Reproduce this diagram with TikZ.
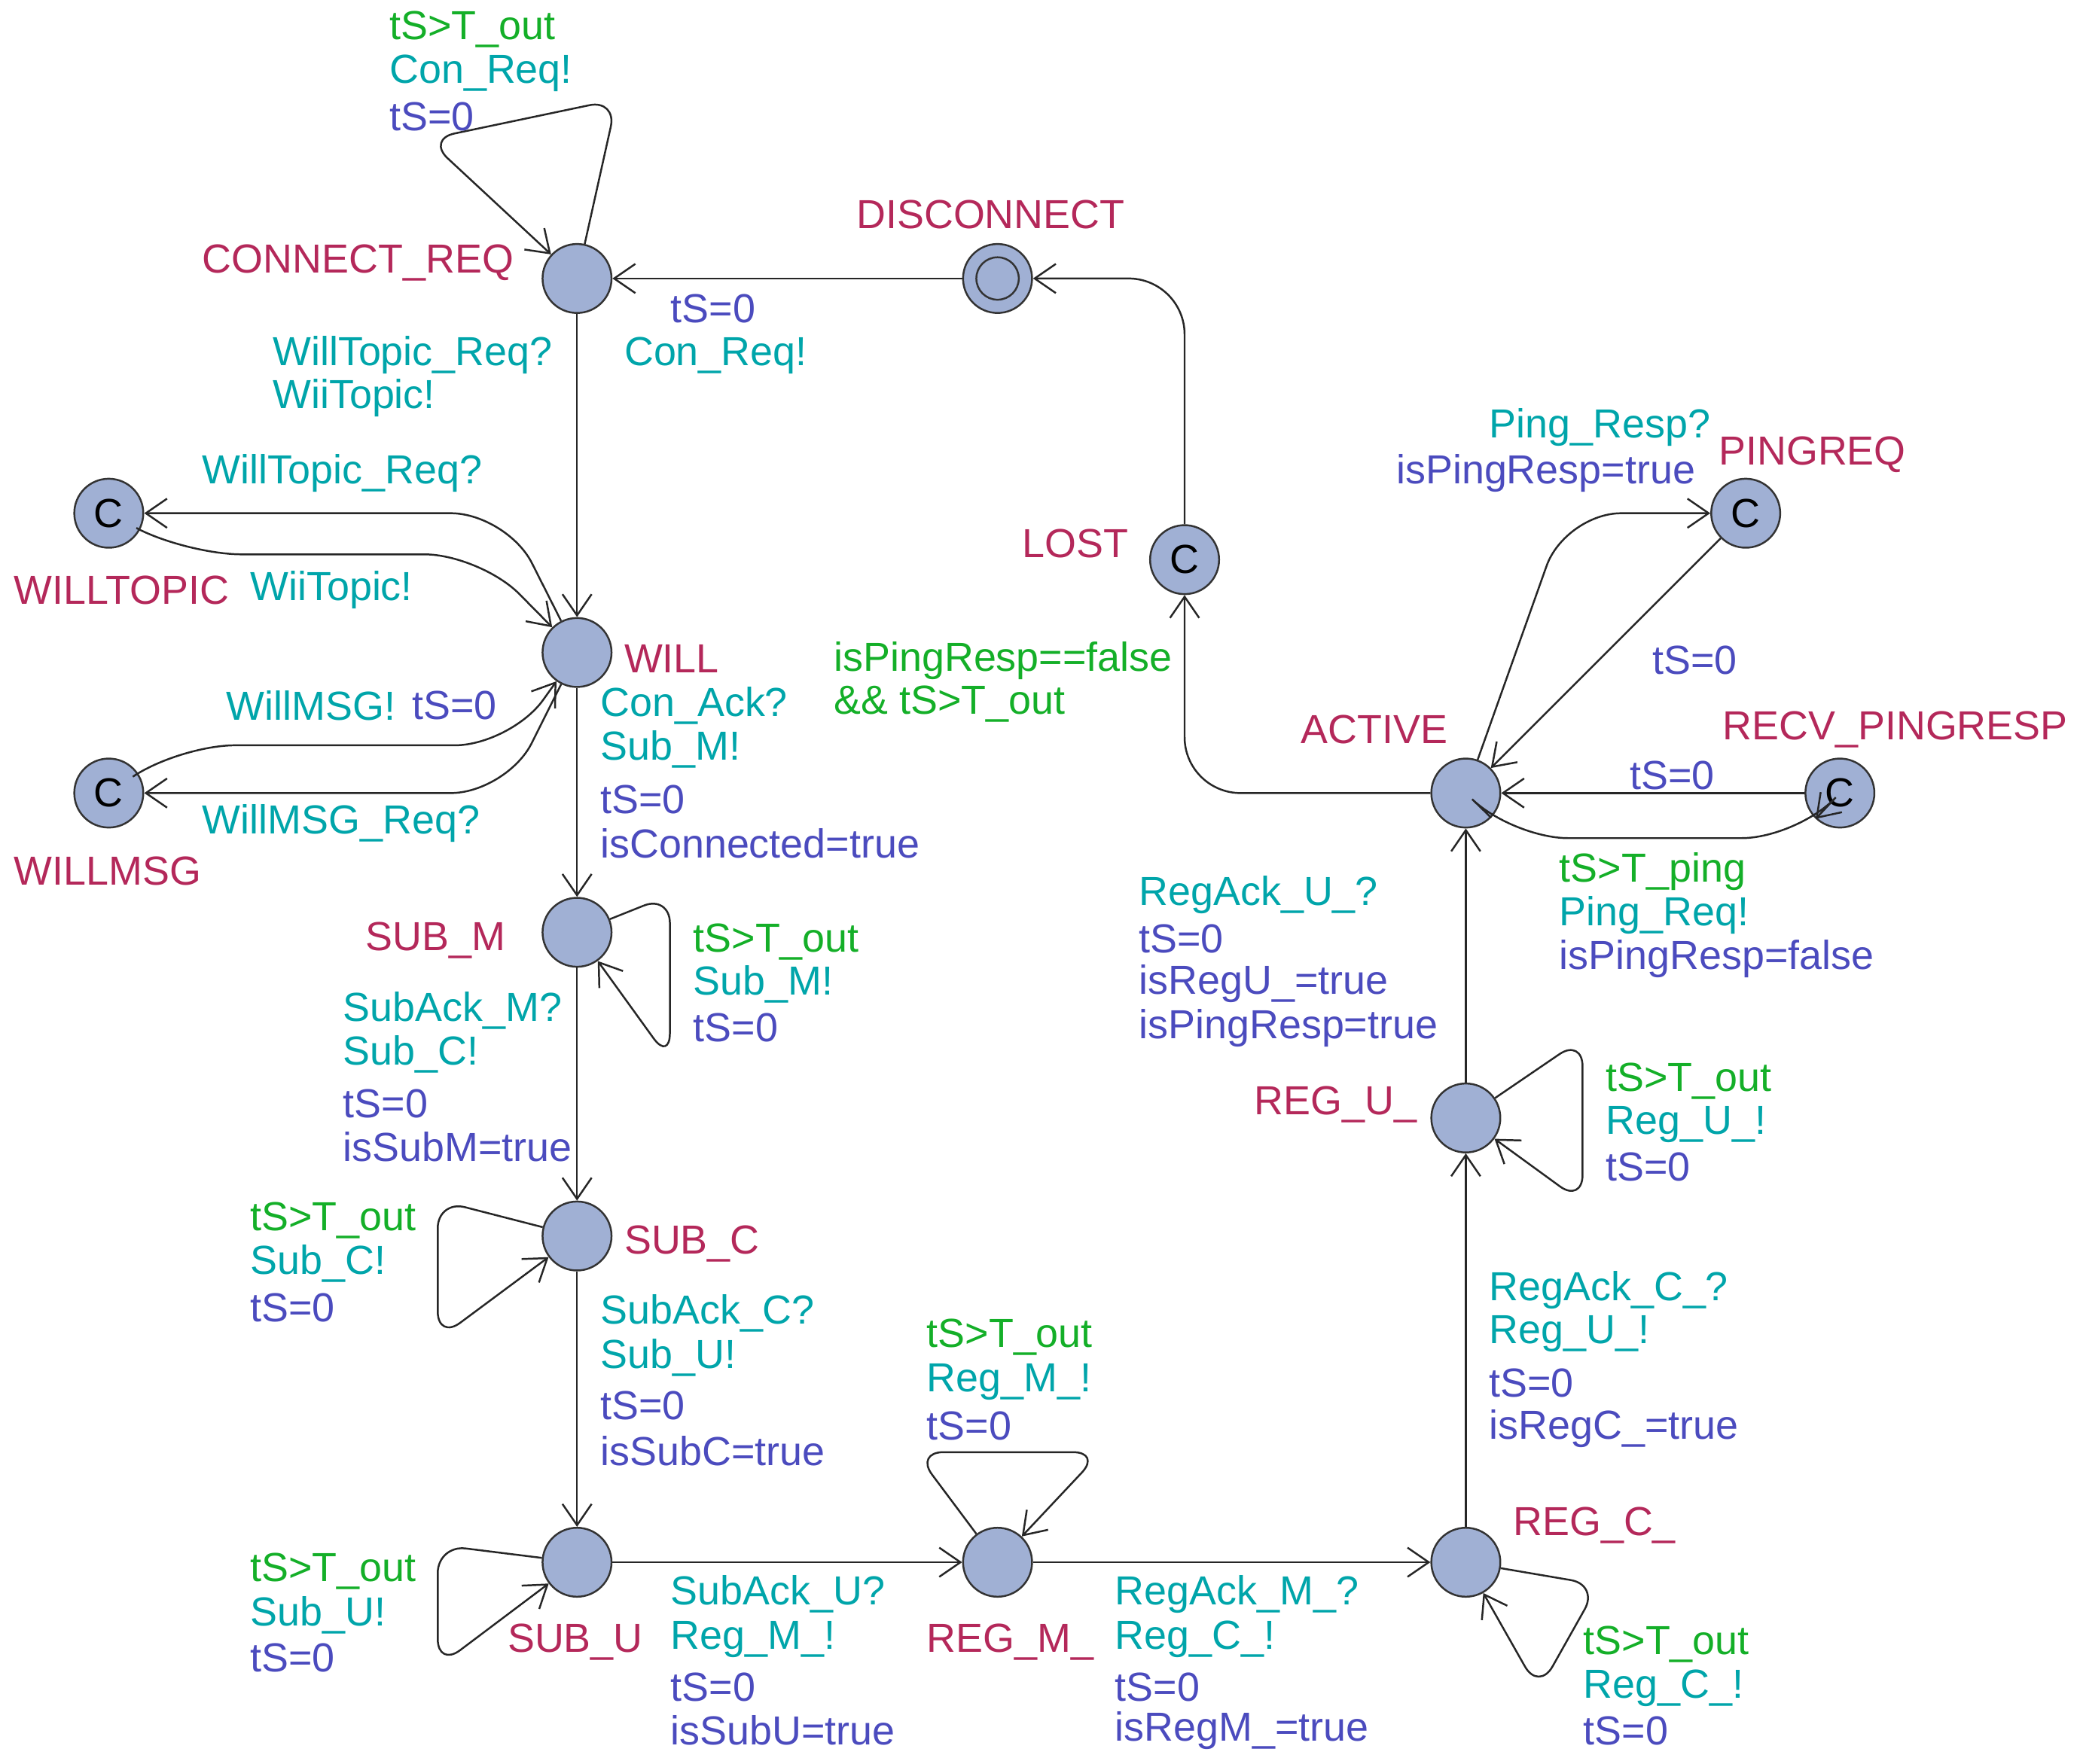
\documentclass[tikz,border=0pt]{standalone}
\usepackage{fontspec}
\setmainfont{Liberation Sans}
\usetikzlibrary{arrows.meta}
\definecolor{locc}{RGB}{180,40,90}
\definecolor{grd}{RGB}{20,175,40}
\definecolor{syn}{RGB}{0,165,170}
\definecolor{asg}{RGB}{75,75,190}
\definecolor{nfill}{RGB}{160,176,212}
\begin{document}
\begin{tikzpicture}[x=0.1mm,y=-0.1mm,
  every node/.style={font=\fontsize{8.7}{9.4}\selectfont},
  loc/.style={circle,draw=black!80,fill=nfill,minimum size=5.2mm,inner sep=0pt},
  lname/.style={text=locc,anchor=west,inner sep=0pt},
  lab/.style={anchor=west,inner sep=0pt,align=left},
  tg/.style={lab,text=grd}, ts/.style={lab,text=syn}, ta/.style={lab,text=asg},
  arr/.style={draw=black!85,-{Straight Barb[length=1.6mm,width=2.2mm]},rounded corners=12pt}]
\useasboundingbox (0,0) rectangle (1568,1330);
% locations
\node[loc] (cr) at (435,210) {};
\node[loc] (disc) at (752,210) {};
\draw[black!80] (752,210) circle (1.6mm);
\node[loc] (will) at (435,492) {};
\node[loc] (wt) at (82,387) {C};
\node[loc] (wm) at (82,598) {C};
\node[loc] (subm) at (435,703) {};
\node[loc] (subc) at (435,932) {};
\node[loc] (subu) at (435,1178) {};
\node[loc] (regm) at (752,1178) {};
\node[loc] (regc) at (1105,1178) {};
\node[loc] (regu) at (1105,843) {};
\node[loc] (act) at (1105,598) {};
\node[loc] (lost) at (893,422) {C};
\node[loc] (pr) at (1316,387) {C};
\node[loc] (recv) at (1387,598) {C};
% names
\node[lname] at (152,198) {CONNECT\_REQ};
\node[lname] at (645,162) {DISCONNECT};
\node[lname] at (10,445) {WILLTOPIC};
\node[lname] at (10,657) {WILLMSG};
\node[lname] at (470,497) {WILL};
\node[lname] at (275,709) {SUB\_M};
\node[lname] at (470,938) {SUB\_C};
\node[lname] at (382,1238) {SUB\_U};
\node[lname] at (698,1238) {REG\_M\_};
\node[lname] at (1140,1150) {REG\_C\_};
\node[lname] at (945,833) {REG\_U\_};
\node[lname] at (980,550) {ACTIVE};
\node[lname] at (770,410) {LOST};
\node[lname] at (1295,343) {PINGREQ};
\node[lname] at (1298,550) {RECV\_PINGRESP};
% edges
\draw[arr,rounded corners=6pt] (cr) -- (465,75) -- (322,105) -- (cr);
\node[tg] at (293,22) {tS>T\_out};
\node[ts] at (293,55) {Con\_Req!};
\node[ta] at (293,88) {tS=0};
\draw[arr] (disc) -- (cr);
\node[ta] at (505,233) {tS=0};
\node[ts] at (470,268) {Con\_Req!};
\draw[arr] (lost) -- (893,210) -- (disc);
\draw[arr] (act) -- (893,598) -- (lost);
\node[tg] at (628,498) {isPingResp==false};
\node[tg] at (628,531) {\&\& tS>T\_out};
\draw[arr] (cr) -- (will);
\node[ts] at (205,268) {WillTopic\_Req?};
\node[ts] at (205,300) {WiiTopic!};
\draw[arr] (will) -- (382,387) -- (wt);
\node[ts] at (152,357) {WillTopic\_Req?};
\draw[arr] (wt) -- (140,418) -- (362,418) -- (will);
\node[ts] at (188,445) {WiiTopic!};
\draw[arr] (wm) -- (135,562) -- (385,562) -- (will);
\node[ts] at (170,532) {WillMSG!};
\node[ta] at (310,532) {tS=0};
\draw[arr] (will) -- (382,598) -- (wm);
\node[ts] at (152,621) {WillMSG\_Req?};
\draw[arr] (will) -- (subm);
\node[ts] at (452,532) {Con\_Ack?};
\node[ts] at (452,565) {Sub\_M!};
\node[ta] at (452,603) {tS=0};
\node[ta] at (452,636) {isConnected=true};
\draw[arr,rounded corners=6pt] (subm) -- (505,675) -- (505,800) -- (subm);
\node[tg] at (522,710) {tS>T\_out};
\node[ts] at (522,742) {Sub\_M!};
\node[ta] at (522,775) {tS=0};
\draw[arr] (subm) -- (subc);
\node[ts] at (258,762) {SubAck\_M?};
\node[ts] at (258,795) {Sub\_C!};
\node[ta] at (258,832) {tS=0};
\node[ta] at (258,865) {isSubM=true};
\draw[arr,rounded corners=6pt] (subc) -- (330,905) -- (330,1010) -- (subc);
\node[tg] at (188,920) {tS>T\_out};
\node[ts] at (188,953) {Sub\_C!};
\node[ta] at (188,986) {tS=0};
\draw[arr] (subc) -- (subu);
\node[ts] at (452,990) {SubAck\_C?};
\node[ts] at (452,1024) {Sub\_U!};
\node[ta] at (452,1060) {tS=0};
\node[ta] at (452,1094) {isSubC=true};
\draw[arr,rounded corners=6pt] (subu) -- (330,1165) -- (330,1257) -- (subu);
\node[tg] at (188,1185) {tS>T\_out};
\node[ts] at (188,1218) {Sub\_U!};
\node[ta] at (188,1250) {tS=0};
\draw[arr] (subu) -- (regm);
\node[ts] at (505,1202) {SubAck\_U?};
\node[ts] at (505,1236) {Reg\_M\_!};
\node[ta] at (505,1272) {tS=0};
\node[ta] at (505,1305) {isSubU=true};
\draw[arr,rounded corners=6pt] (regm) -- (690,1095) -- (830,1095) -- (regm);
\node[tg] at (698,1008) {tS>T\_out};
\node[ts] at (698,1042) {Reg\_M\_!};
\node[ta] at (698,1075) {tS=0};
\draw[arr] (regm) -- (regc);
\node[ts] at (840,1202) {RegAck\_M\_?};
\node[ts] at (840,1236) {Reg\_C\_!};
\node[ta] at (840,1272) {tS=0};
\node[ta] at (840,1305) {isRegM\_=true};
\draw[arr,rounded corners=6pt] (regc) -- (1205,1195) -- (1160,1275) -- (regc);
\node[tg] at (1193,1240) {tS>T\_out};
\node[ts] at (1193,1273) {Reg\_C\_!};
\node[ta] at (1193,1305) {tS=0};
\draw[arr] (regc) -- (regu);
\node[ts] at (1122,973) {RegAck\_C\_?};
\node[ts] at (1122,1006) {Reg\_U\_!};
\node[ta] at (1122,1043) {tS=0};
\node[ta] at (1122,1077) {isRegC\_=true};
\draw[arr,rounded corners=6pt] (regu) -- (1193,783) -- (1193,907) -- (regu);
\node[tg] at (1210,815) {tS>T\_out};
\node[ts] at (1210,848) {Reg\_U\_!};
\node[ta] at (1210,880) {tS=0};
\draw[arr] (regu) -- (act);
\node[ts] at (858,675) {RegAck\_U\_?};
\node[ta] at (858,708) {tS=0};
\node[ta] at (858,742) {isRegU\_=true};
\node[ta] at (858,775) {isPingResp=true};
\draw[arr] (act) -- (1180,387) -- (pr);
\node[ts] at (1122,322) {Ping\_Resp?};
\node[ta] at (1052,357) {isPingResp=true};
\draw[arr] (pr) -- (act);
\node[ta] at (1245,498) {tS=0};
\draw[arr] (recv) -- (act);
\node[ta] at (1228,585) {tS=0};
\draw[arr] (act) -- (1140,632) -- (1355,632) -- (recv);
\node[tg] at (1175,657) {tS>T\_ping};
\node[ts] at (1175,690) {Ping\_Req!};
\node[ta] at (1175,723) {isPingResp=false};
\end{tikzpicture}
\end{document}
